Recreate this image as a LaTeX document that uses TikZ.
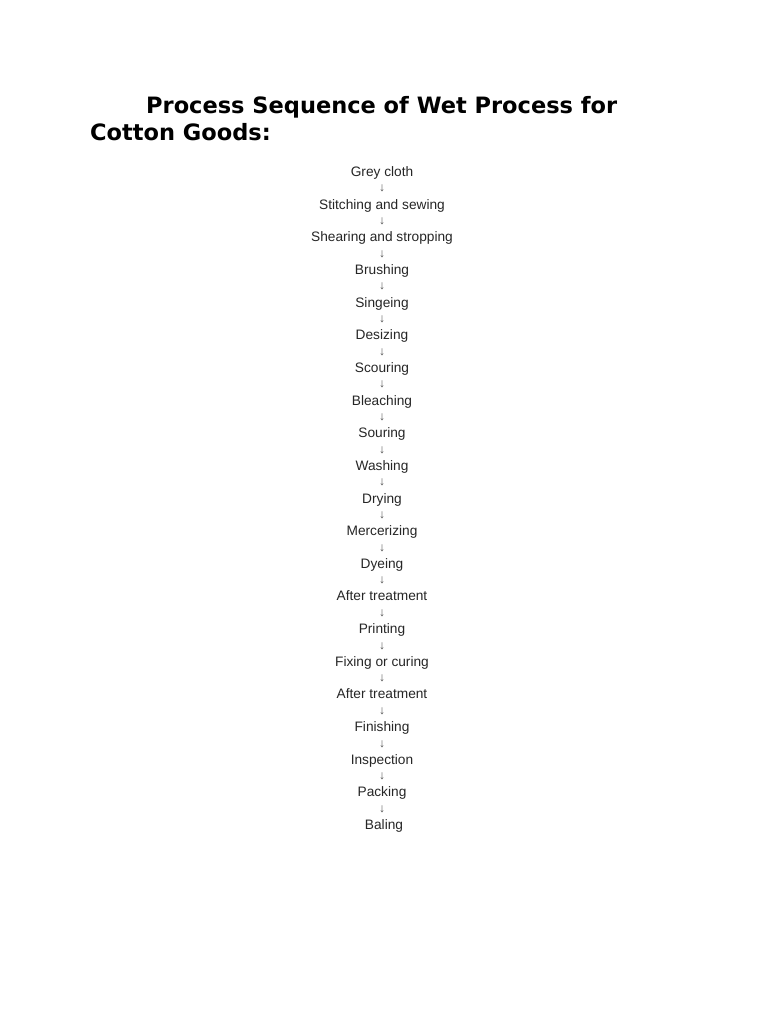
\documentclass[tikz,border=0pt]{standalone}
\usepackage{fontspec}
\setmainfont{Liberation Sans}
\newfontfamily\titlefont{DejaVu Sans}
\begin{document}
\begin{tikzpicture}[x=1pt,y=-1pt,
  item/.style={anchor=base,inner sep=0pt,font=\fontsize{13.7}{16}\selectfont,text=black!85},
  arr/.style={anchor=base,inner sep=0pt,font=\fontsize{12}{14}\selectfont,text=black!70},
  ttl/.style={anchor=base west,inner sep=0pt,font=\titlefont\bfseries\fontsize{22.5}{26}\selectfont}]
\useasboundingbox[fill=white] (0,0) rectangle (768,1024);
\node[ttl] (t1) at (146,114) {Process Sequence of Wet Process for};
\node[ttl] (t2) at (90,141) {Cotton Goods:};
\foreach \txt/\dx [count=\i] in {Grey cloth/0,Stitching and sewing/0,Shearing and stropping/0,Brushing/0,Singeing/0,Desizing/0,Scouring/0,Bleaching/0,Souring/0,Washing/0,Drying/0,Mercerizing/0,Dyeing/0,After treatment/0,Printing/0,Fixing or curing/0,After treatment/0,Finishing/0,Inspection/0,Packing/0,Baling/2}{
  \node[item] (n\i) at ({382+\dx},{176.5+(\i-1)*32.65}) {\txt};
}
\foreach \i in {1,...,20}{
  \node[arr] (a\i) at (382,{192+(\i-1)*32.65}) {↓};
}
\end{tikzpicture}
\end{document}
